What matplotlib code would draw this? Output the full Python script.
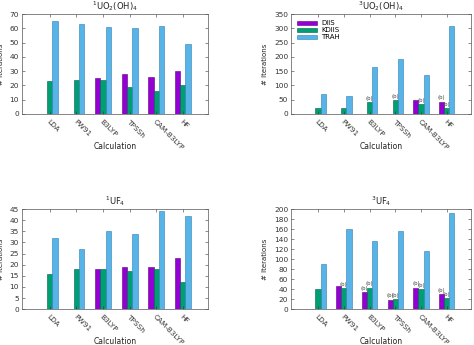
import matplotlib.pyplot as plt
import numpy as np

methods = ['LDA', 'PW91', 'B3LYP', 'TPSSh', 'CAM-B3LYP', 'HF']
nan = np.nan

# 1UO2(OH)4
diis_1uo2 = [nan, nan, 25, 28, 26, 30]
kdiis_1uo2 = [23, 24, 24, 19, 16, 20]
trah_1uo2 = [65, 63, 61, 60, 62, 49]
# 3UO2(OH)4
diis_3uo2 = [nan, nan, nan, nan, 47, 43]
kdiis_3uo2 = [21, 21, 41, 49, 34, 20]
trah_3uo2 = [70, 61, 166, 193, 136, 308]
# 1UF4
diis_1uf4 = [nan, nan, 18, 19, 19, 23]
kdiis_1uf4 = [16, 18, 18, 17, 18, 12]
trah_1uf4 = [32, 27, 35, 34, 44, 42]
# 3UF4
diis_3uf4 = [nan, 46, 34, 19, 43, 30]
kdiis_3uf4 = [40, 42, 43, 20, 40, 22]
trah_3uf4 = [91, 160, 136, 156, 117, 192]

# (b) marks: (series index, method index)
marks_3uo2 = [(1, 2), (1, 3), (1, 4), (0, 5), (1, 5)]
marks_3uf4 = [(1, 1), (0, 2), (1, 2), (0, 3), (1, 3), (0, 4), (1, 4), (0, 5), (1, 5)]

cols = ['#9400D3', '#009E73', '#56B4E9']
edges = ['#5a0080', '#00604a', '#2f7fb0']
names = ['DIIS', 'KDIIS', 'TRAH']

plt.rcParams['font.family'] = 'DejaVu Sans'
fig = plt.figure(figsize=(4.74, 3.45), dpi=100)

def panel(rect, title, series, ymax, ystep, marks=(), legend=False, xl=-0.33):
    ax = fig.add_axes(rect)
    x = np.arange(len(methods))
    w = 0.2
    for j, vals in enumerate(series):
        ax.bar(x + (j - 1) * w, vals, w, color=cols[j], edgecolor=edges[j],
               linewidth=0.4, label=names[j])
    for j, i in marks:
        v = series[j][i]
        ax.text(x[i] + (j - 1) * w, v + ymax * 0.012, '(b)', fontsize=3.8,
                ha='center', va='bottom', color='#444444')
    ax.set_xlim(-1.05, 5.95)
    ax.set_ylim(0, ymax)
    ax.set_yticks(np.arange(0, ymax + 1, ystep))
    ax.set_xticks(x)
    ax.set_xticklabels(methods, rotation=-45, ha='left', va='top',
                       rotation_mode='anchor')
    ax.tick_params(direction='in', length=2, width=0.4, labelsize=5.3,
                   top=True, right=True, pad=2, colors='#333333')
    ax.tick_params(axis='x', pad=3)
    for s in ax.spines.values():
        s.set_linewidth(0.5)
        s.set_color('#555555')
    ax.set_title(title, fontsize=6, pad=3, color='#222222')
    ax.set_xlabel('Calculation', fontsize=5.5, color='#222222', va='center')
    ax.xaxis.set_label_coords(0.5, xl)
    ax.set_ylabel('# Iterations', fontsize=5, labelpad=4, color='#222222')
    if legend:
        ax.legend(loc='upper left', fontsize=5, frameon=False, handlelength=2.8,
                  handleheight=0.4, labelspacing=0.15, borderaxespad=0.5,
                  handletextpad=0.6)
    return ax

panel([0.046, 0.670, 0.393, 0.289], r'$^1$UO$_2$(OH)$_4$',
      [diis_1uo2, kdiis_1uo2, trah_1uo2], 70, 10)
panel([0.614, 0.670, 0.380, 0.289], r'$^3$UO$_2$(OH)$_4$',
      [diis_3uo2, kdiis_3uo2, trah_3uo2], 350, 50, marks_3uo2, legend=True)
panel([0.046, 0.104, 0.393, 0.290], r'$^1$UF$_4$',
      [diis_1uf4, kdiis_1uf4, trah_1uf4], 45, 5, xl=-0.32)
panel([0.614, 0.104, 0.380, 0.290], r'$^3$UF$_4$',
      [diis_3uf4, kdiis_3uf4, trah_3uf4], 200, 20, marks_3uf4, xl=-0.32)

fig.savefig('out.png', dpi=100)
